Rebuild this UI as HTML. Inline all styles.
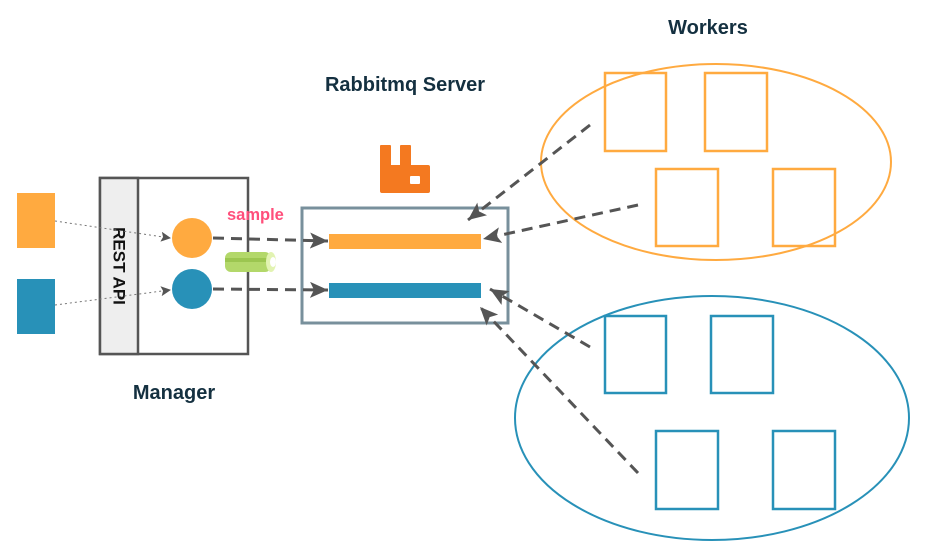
<!DOCTYPE html>
<html><head><meta charset="utf-8"><style>html,body{margin:0;padding:0;background:#fff;}svg{display:block}</style></head>
<body>
<svg width="935" height="555" viewBox="0 0 935 555" xmlns="http://www.w3.org/2000/svg" font-family="Liberation Sans, sans-serif">
<defs>
<marker id="ah" markerWidth="10" markerHeight="10" refX="9" refY="5" orient="auto" markerUnits="userSpaceOnUse" viewBox="0 0 10 10"><path d="M0,0 L10,5 L0,10 L2,5 z" fill="#555"/></marker>
<marker id="as" markerWidth="20" markerHeight="16" refX="18" refY="8" orient="auto" markerUnits="userSpaceOnUse"><path d="M0,0 L18,8 L0,16 L4,8 z" fill="#555"/></marker>
</defs>
<rect x="17" y="193" width="38" height="55" fill="#ffaa40"/>
<rect x="17" y="279" width="38" height="55" fill="#2891b8"/>
<rect x="100" y="178" width="148" height="176" fill="#fff" stroke="#555" stroke-width="2.5"/>
<rect x="100" y="178" width="38" height="176" fill="#eeeeee" stroke="#555" stroke-width="2.5"/>
<text transform="translate(113.5,266) rotate(90)" text-anchor="middle" font-size="17" font-weight="bold" fill="#111">REST API</text>
<line x1="55" y1="221" x2="170" y2="238" stroke="#777" stroke-width="1" stroke-dasharray="2,3" marker-end="url(#ah)"/>
<line x1="55" y1="305" x2="170" y2="290" stroke="#777" stroke-width="1" stroke-dasharray="2,3" marker-end="url(#ah)"/>
<circle cx="192" cy="238" r="20" fill="#ffaa40"/>
<circle cx="192" cy="289" r="20" fill="#2891b8"/>
<text x="227" y="220" font-size="16.5" font-weight="bold" fill="#ff4f7b">sample</text>
<rect x="225" y="252" width="46" height="20" rx="6" fill="#b3d86a"/>
<rect x="225" y="258" width="46" height="4" fill="#9cc650"/>
<ellipse cx="271" cy="262" rx="5" ry="10" fill="#e2f3b2"/>
<ellipse cx="273" cy="262" rx="3" ry="5" fill="#fff"/>
<text x="174" y="399" text-anchor="middle" font-size="20" font-weight="bold" fill="#143040">Manager</text>
<rect x="302" y="208" width="206" height="115" fill="#fff" stroke="#78909c" stroke-width="3"/>
<rect x="329" y="234" width="152" height="15" fill="#ffaa40"/>
<rect x="329" y="283" width="152" height="15" fill="#2891b8"/>
<line x1="213" y1="238" x2="328" y2="241" stroke="#555" stroke-width="3" stroke-dasharray="11,7" marker-end="url(#as)"/>
<line x1="213" y1="289" x2="328" y2="290" stroke="#555" stroke-width="3" stroke-dasharray="11,7" marker-end="url(#as)"/>
<text x="405" y="91" text-anchor="middle" font-size="20" font-weight="bold" fill="#143040">Rabbitmq Server</text>
<g fill="#f47920">
<rect x="380" y="145" width="11" height="25" rx="1"/>
<rect x="400" y="145" width="11" height="25" rx="1"/>
<rect x="380" y="165" width="50" height="28" rx="2"/>
</g>
<rect x="410" y="176" width="10" height="8" rx="1" fill="#fff"/>
<text x="708" y="34" text-anchor="middle" font-size="20" font-weight="bold" fill="#143040">Workers</text>
<ellipse cx="716" cy="162" rx="175" ry="98" fill="none" stroke="#ffaa40" stroke-width="2"/>
<ellipse cx="712" cy="418" rx="197" ry="122" fill="none" stroke="#2891b8" stroke-width="2"/>
<g fill="none" stroke="#ffaa40" stroke-width="2.5">
<rect x="605" y="73" width="61" height="78"/>
<rect x="705" y="73" width="62" height="78"/>
<rect x="656" y="169" width="62" height="77"/>
<rect x="773" y="169" width="62" height="77"/>
</g>
<g fill="none" stroke="#2891b8" stroke-width="2.5">
<rect x="605" y="316" width="61" height="77"/>
<rect x="711" y="316" width="62" height="77"/>
<rect x="656" y="431" width="62" height="78"/>
<rect x="773" y="431" width="62" height="78"/>
</g>
<g stroke="#555" stroke-width="3" stroke-dasharray="11,7" fill="none">
<line x1="590" y1="125" x2="468" y2="220" marker-end="url(#as)"/>
<line x1="638" y1="205" x2="483" y2="239" marker-end="url(#as)"/>
<line x1="590" y1="347" x2="490" y2="289" marker-end="url(#as)"/>
<line x1="638" y1="473" x2="480" y2="307" marker-end="url(#as)"/>
</g>
</svg>
</body></html>
